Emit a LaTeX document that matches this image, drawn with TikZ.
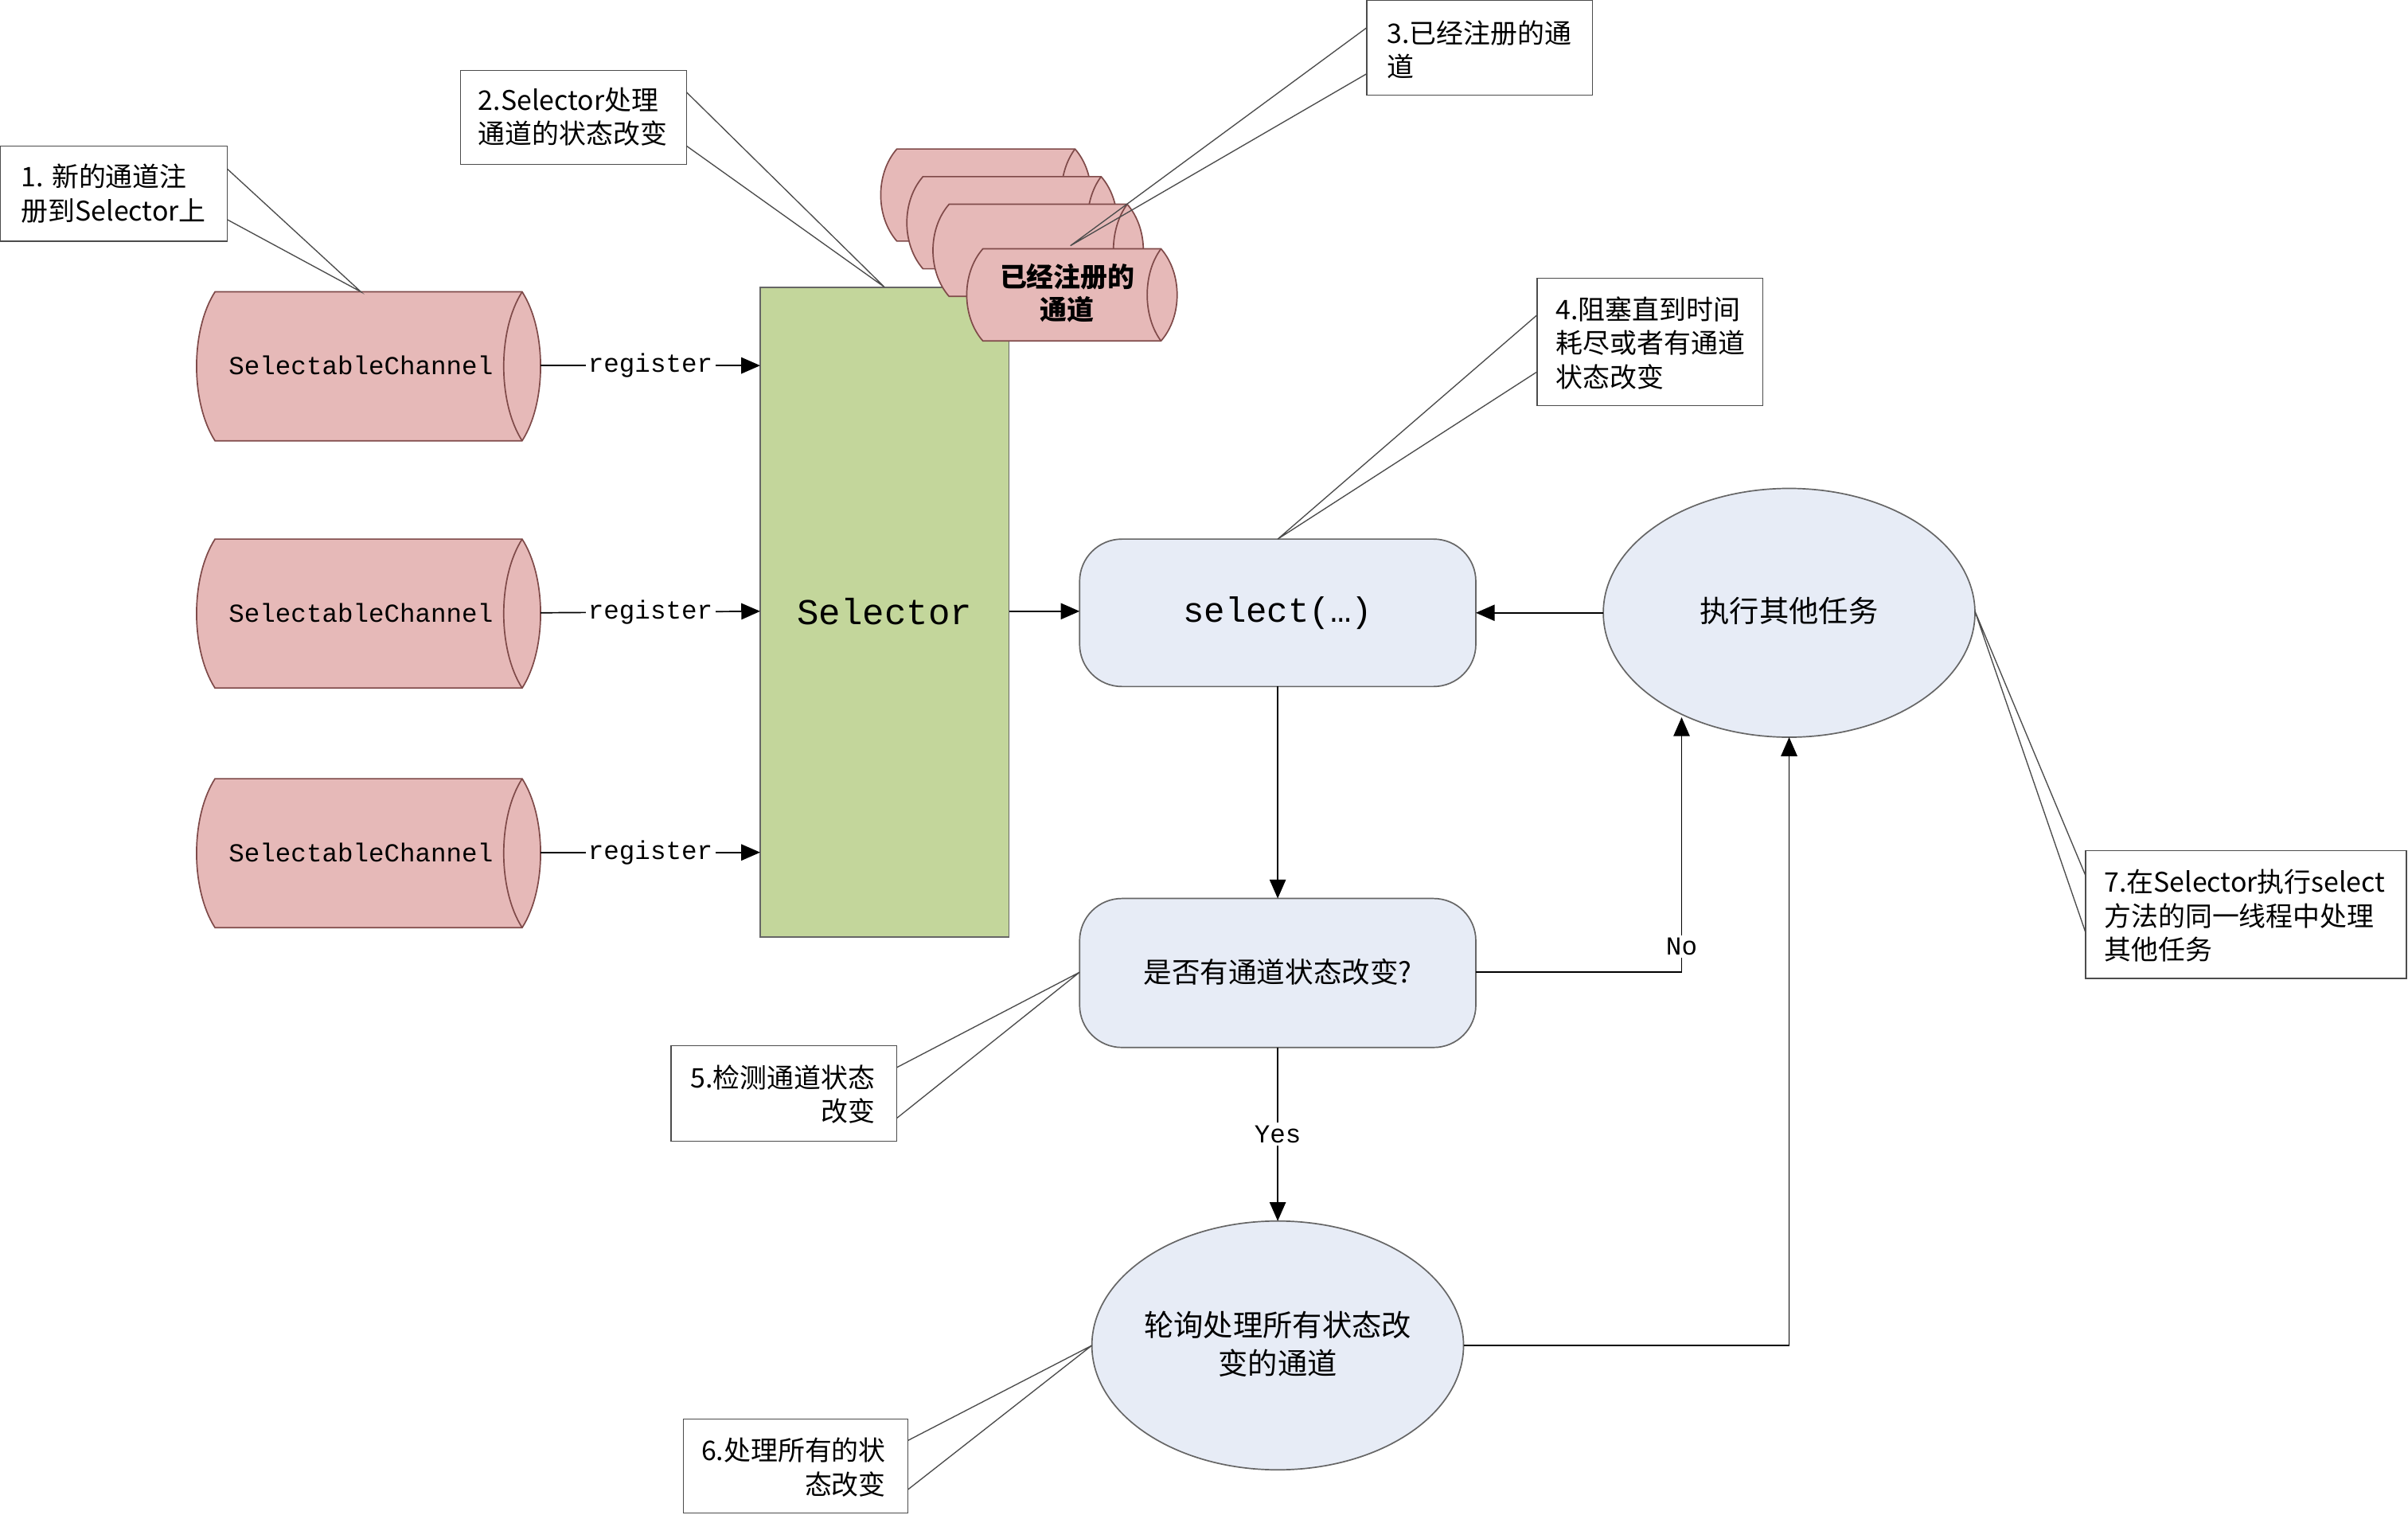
\documentclass[tikz,border=0pt]{standalone}
\usepackage{fontspec}
\newfontfamily\cjk{Noto Sans CJK SC}
\newfontfamily\mono{Liberation Mono}
\setmainfont{Noto Sans CJK SC}
\usetikzlibrary{arrows.meta}
\definecolor{pinkf}{HTML}{E6B9B8}
\definecolor{pinkd}{HTML}{7F4A49}
\definecolor{greenf}{HTML}{C3D69B}
\definecolor{bluef}{HTML}{E7ECF6}
\begin{document}
\begin{tikzpicture}[x={(0.02cm,0)},y={(0,-0.02cm)},
  chan/.style={fill=pinkf,draw=pinkd,line width=0.5pt},
  call/.style={draw=black!70,fill=white,line width=0.4pt},
  wedge/.style={draw=black!70,line width=0.4pt},
  arr/.style={-{Triangle[length=7pt,width=6pt]},line width=0.5pt},
  rbox/.style={draw=black!60,fill=bluef,rounded corners=0.55cm,line width=0.5pt},
  ctext/.style={font=\cjk\fontsize{10}{12.5}\selectfont,align=left},
  mt/.style={font=\mono\fontsize{9.6}{11}\selectfont,fill=white,inner sep=1pt}]
\useasboundingbox (0,0) rectangle (1568,986);
% channel cylinders
\foreach \y/\n in {190/c1,351/c2,507/c3}{
  \path[chan] (140,\y) -- (340,\y) .. controls (356,\y+25) and (356,\y+72) .. (340,\y+97) -- (140,\y+97) .. controls (124,\y+72) and (124,\y+25) .. (140,\y) -- cycle;
  \draw[pinkd,line width=0.5pt] (340,\y) .. controls (324,\y+25) and (324,\y+72) .. (340,\y+97);
  \node[font=\mono\fontsize{9.6}{11}\selectfont] (\n) at (235,\y+48) {SelectableChannel};
  \coordinate (\n r) at (352,\y+48);
}
% selector
\node[draw=black!60,fill=greenf,minimum width=162\pgflinewidth,inner sep=0] (sel) at (576,398) {};
\fill[greenf,draw=black!60,line width=0.5pt] (495,187) rectangle (657,610);
\node[font=\mono\fontsize{13.5}{15}\selectfont] (selt) at (576,398) {Selector};
\coordinate (s1) at (495,238);\coordinate (s2) at (495,398);\coordinate (s3) at (495,555);
\draw[arr] (c1r) -- node[mt]{register} (s1);
\draw[arr] (c2r) -- node[mt]{register} (s2);
\draw[arr] (c3r) -- node[mt]{register} (s3);
% stacked cylinders
\foreach \x/\y in {574/97,591/115,608/133,630/162}{
  \path[chan] (\x+10,\y) -- (\x+126,\y) .. controls (\x+140,\y+16) and (\x+140,\y+44) .. (\x+126,\y+60) -- (\x+10,\y+60) .. controls (\x-4,\y+44) and (\x-4,\y+16) .. (\x+10,\y) -- cycle;
  \draw[pinkd,line width=0.5pt] (\x+126,\y) .. controls (\x+114,\y+16) and (\x+114,\y+44) .. (\x+126,\y+60);
}
\node[font=\cjk\bfseries\fontsize{10}{12}\selectfont,align=center] (reg) at (695,191) {已经注册的\\通道};
% select box
\draw[rbox] (703,351) rectangle (961,447);
\node[font=\mono\fontsize{13}{15}\selectfont] (sl) at (832,399) {select(…)};
\draw[rbox] (703,585) rectangle (961,682);
\node[font=\cjk\fontsize{10.5}{13}\selectfont] (dec) at (832,633) {是否有通道状态改变?};
\draw[draw=black!60,fill=bluef,line width=0.5pt] (1165,399) ellipse [x radius=121,y radius=81];
\node[font=\cjk\fontsize{11}{13}\selectfont] (other) at (1165,398) {执行其他任务};
\draw[draw=black!60,fill=bluef,line width=0.5pt] (832,876) ellipse [x radius=121,y radius=81];
\node[font=\cjk\fontsize{11}{14}\selectfont,align=center] (poll) at (832,875) {轮询处理所有状态改\\变的通道};
% connectors
\coordinate (selR) at (657,398); \coordinate (slL) at (703,398);
\draw[arr] (selR) -- (slL);
\coordinate (oL) at (1044,399); \coordinate (slR) at (961,399);
\draw[arr] (oL) -- (slR);
\coordinate (slB) at (832,447); \coordinate (dT) at (832,585);
\draw[arr] (slB) -- (dT);
\coordinate (dR) at (961,633); \coordinate (oB1) at (1095,467);
\draw[arr] (dR) -- (1095,633) -- node[pos=0.1,mt]{No} (oB1);
\coordinate (dB) at (832,682); \coordinate (pT) at (832,795);
\draw[arr] (dB) -- node[mt]{Yes} (pT);
\coordinate (pR) at (953,876); \coordinate (oB2) at (1165,480);
\draw[arr] (pR) -- (1165,876) -- (oB2);
% callouts
\coordinate (t1) at (235,190); \coordinate (t2) at (576,187); \coordinate (t3) at (697,160);
\coordinate (t4) at (832,351); \coordinate (t5) at (703,633); \coordinate (t6) at (711,876);
\coordinate (t7) at (1286,398);
\draw[wedge] (148,110) -- (t1) -- (148,143);
\draw[wedge] (447,60) -- (t2) -- (447,95);
\draw[wedge] (890,18) -- (t3) -- (890,48);
\draw[wedge] (1001,205) -- (t4) -- (1001,242);
\draw[wedge] (584,695) -- (t5) -- (584,728);
\draw[wedge] (591,938) -- (t6) -- (591,970);
\draw[wedge] (1358,570) -- (t7) -- (1358,607);
\draw[call] (0,95) rectangle (148,157);
\node[ctext] (n1) at (74,126) {1. 新的通道注\\册到Selector上};
\draw[call] (300,46) rectangle (447,107);
\node[ctext] (n2) at (373,76) {2.Selector处理\\通道的状态改变};
\draw[call] (890,0) rectangle (1037,62);
\node[ctext,anchor=north west] (n3) at (897,7) {3.已经注册的通\\道};
\draw[call] (1001,181) rectangle (1148,264);
\node[ctext,anchor=north west] (n4) at (1007,187) {4.阻塞直到时间\\耗尽或者有通道\\状态改变};
\draw[call] (437,681) rectangle (584,743);
\node[ctext,align=right,anchor=north east] (n5) at (576,687) {5.检测通道状态\\改变};
\draw[call] (445,924) rectangle (591,985);
\node[ctext,align=right,anchor=north east] (n6) at (583,930) {6.处理所有的状\\态改变};
\draw[call] (1358,554) rectangle (1567,637);
\node[ctext,anchor=north west] (n7) at (1364,560) {7.在Selector执行select\\方法的同一线程中处理\\其他任务};
\end{tikzpicture}
\end{document}
